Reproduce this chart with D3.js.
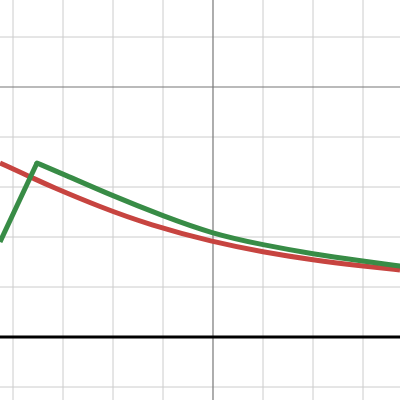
<!DOCTYPE html>
<html><head><script src="https://cdn.jsdelivr.net/npm/d3@7"></script>
<style>body{margin:0;background:#fff}</style></head><body>
<svg id="c" width="400" height="400"></svg>
<script>
const gridX = [-4,-3,-2,-1,0,1,2,3,4];
const gridY = [1,0,-1,-2,-3,-4,-5,-6];
const redX = [-4.26,-3.52,-3.26,-2.26,-1.26,0,1,2,3,3.74];
const redY = [-1.52,-1.86,-1.98,-2.4,-2.76,-3.1,-3.3,-3.46,-3.58,-3.66];
const greenRiseX = [-4.26,-3.52];
const greenRiseY = [-3.1,-1.52];
const greenX = [-3.52,-3,-2,-1,0,1,2,3,3.74];
const greenY = [-1.52,-1.74,-2.18,-2.58,-2.94,-3.16,-3.34,-3.48,-3.58];
const hLineY = -5;

const svg = d3.select("#c");
const x = d3.scaleLinear().domain([-4.26,3.74]).range([0,400]);
const y = d3.scaleLinear().domain([1.74,-6.26]).range([0,400]);
svg.selectAll(".gx").data(gridX.filter(d=>d!==0)).join("line")
  .attr("x1",d=>x(d)).attr("x2",d=>x(d)).attr("y1",0).attr("y2",400)
  .attr("stroke","#ccc").attr("stroke-width",1);
svg.selectAll(".gy").data(gridY.filter(d=>d!==0)).join("line")
  .attr("y1",d=>y(d)).attr("y2",d=>y(d)).attr("x1",0).attr("x2",400)
  .attr("stroke","#ccc").attr("stroke-width",1);
svg.append("line").attr("x1",x(0)).attr("x2",x(0)).attr("y1",0).attr("y2",400).attr("stroke","#777").attr("stroke-width",1.2);
svg.append("line").attr("y1",y(0)).attr("y2",y(0)).attr("x1",0).attr("x2",400).attr("stroke","#777").attr("stroke-width",1.2);
svg.append("line").attr("y1",y(hLineY)).attr("y2",y(hLineY)).attr("x1",0).attr("x2",400).attr("stroke","#000").attr("stroke-width",3);

const ln = d3.line().x(d=>x(d[0])).y(d=>y(d[1])).curve(d3.curveBasis);
svg.append("path").attr("d",ln(d3.zip(redX,redY))).attr("fill","none").attr("stroke","#c74440").attr("stroke-width",5);
const gl = d3.line().x(d=>x(d[0])).y(d=>y(d[1]));
svg.append("path").attr("d",gl(d3.zip(greenRiseX,greenRiseY))).attr("fill","none").attr("stroke","#388c46").attr("stroke-width",5).attr("stroke-linejoin","round");
svg.append("path").attr("d",ln(d3.zip(greenX,greenY))).attr("fill","none").attr("stroke","#388c46").attr("stroke-width",5).attr("stroke-linecap","round");
</script></body></html>
